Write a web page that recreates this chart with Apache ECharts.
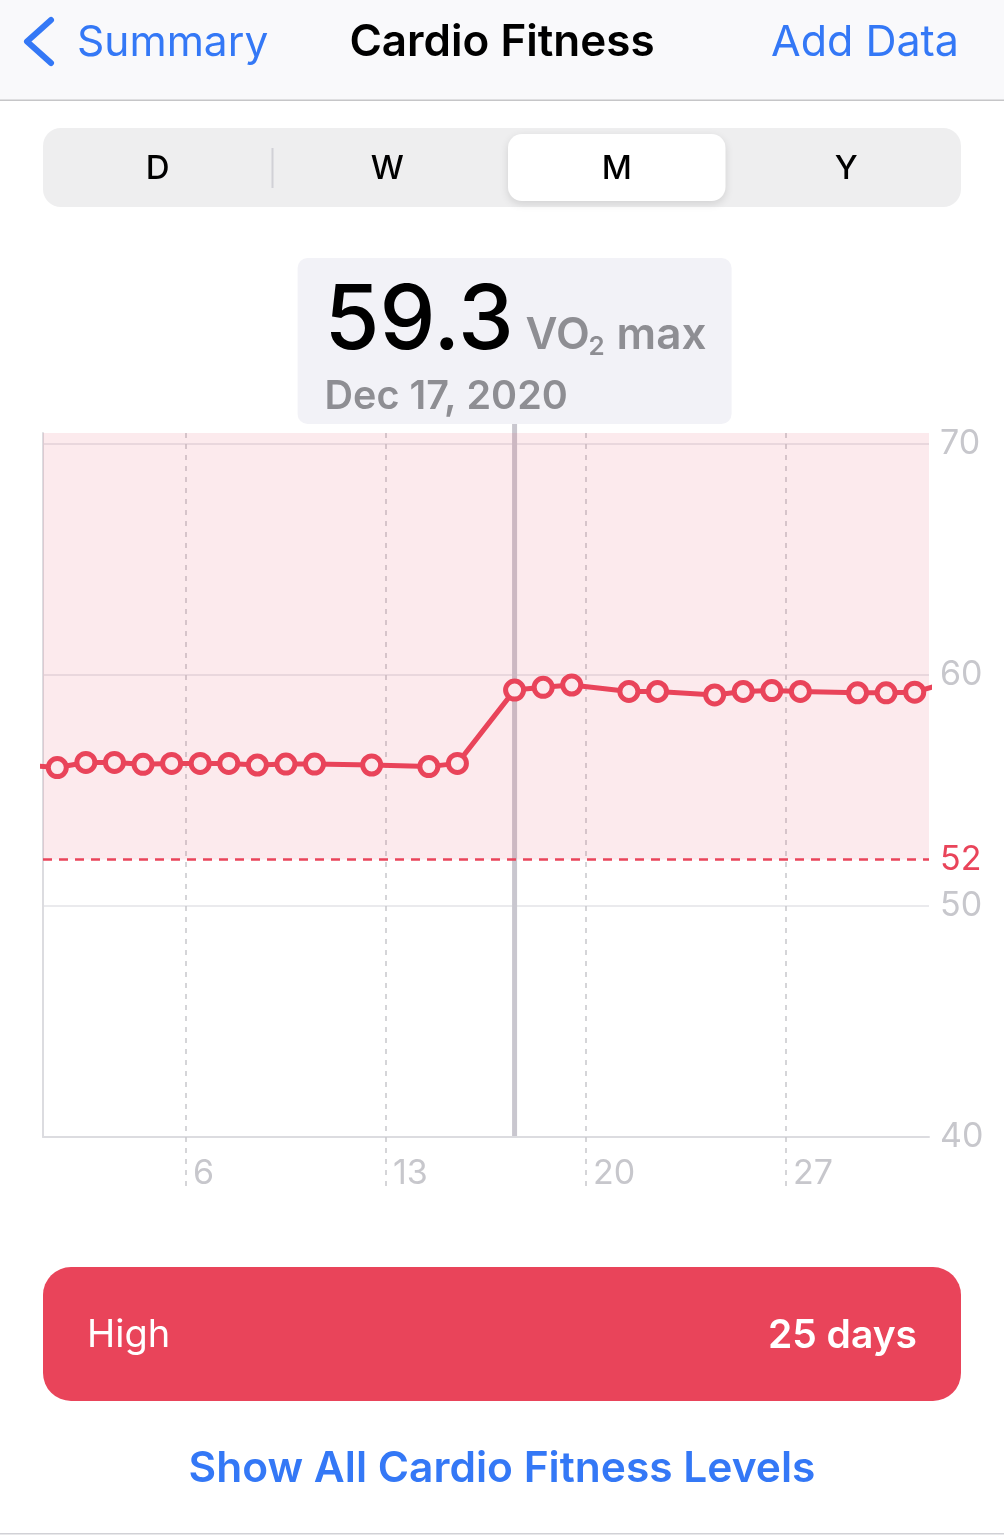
<!DOCTYPE html>
<html><head><meta charset="utf-8">
<script src="https://cdn.jsdelivr.net/npm/echarts@6/dist/echarts.min.js"></script>
<style>html,body{margin:0;padding:0;background:#fff}#c{width:1004px;height:1536px}</style>
</head><body><div id="c"></div>
<script>
// ---- data (December 2020, VO2 max readings) ----
const days = [1,2,3,4,5,6,7,8,9,10,12,14,15,17,18,19,21,22,24,25,26,27,29,30,31];
const vo2  = [55.98,56.2,56.2,56.12,56.16,56.16,56.16,56.09,56.13,56.13,56.09,56.02,56.16,
              59.33,59.45,59.55,59.27,59.27,59.12,59.27,59.31,59.27,59.21,59.21,59.24];
const prevMonthDay = 0, prevMonthValue = 56.07;   // Nov 30 reading (off the left edge)
const nextMonthDay = 32, nextMonthValue = 59.6;   // Jan 1 reading (off the right edge)
const readingHour = 12;                           // readings plotted at noon of their day
const selectedDay = 17;
const selectedLabel = 'Dec 17, 2020';
const highThreshold = 52;
const yTickValues = [40, 50, 60, 70];
const yLabelValues = [40, 50, 52, 60, 70];
const xTickDays = [6, 13, 20, 27];
const yMin = 40, yMax = 70.45;
const xMin = 1, xMax = 32;
const segments = ['D', 'W', 'M', 'Y'];
const selectedSegment = 'M';

const RED = '#e9445a', BLUE = '#3478f6', GRAY = '#c7c7cc', LABELGRAY = '#8e8e93';
const FONT = 'Inter, "Noto Sans", "DejaVu Sans", sans-serif';

const toX = d => d + readingHour / 24;
const seriesData = [[toX(prevMonthDay), prevMonthValue]]
  .concat(days.map((d, i) => [toX(d), vo2[i]]))
  .concat([[toX(nextMonthDay), nextMonthValue]]);
const highDays = vo2.filter(v => v >= highThreshold).length;
const selectedValue = vo2[days.indexOf(selectedDay)];

const chart = echarts.init(document.getElementById('c'), null, {renderer: 'canvas'});
chart.setOption({
  animation: false,
  backgroundColor: '#ffffff',
  grid: {left: 43, right: 75, top: 433, bottom: 399, containLabel: false, outerBoundsMode: 'none'},
  xAxis: {
    type: 'value', min: xMin, max: xMax,
    axisLine: {show: true, onZero: false, lineStyle: {color: '#dcdce0', width: 2}},
    axisTick: {show: true, customValues: xTickDays, length: 50, lineStyle: {color: GRAY, width: 1.5, type: [5, 6]}},
    splitLine: {show: true, lineStyle: {color: GRAY, width: 1.5, type: [5, 6]}},
    axisLabel: {show: true, customValues: xTickDays, color: GRAY, fontSize: 34, fontFamily: FONT,
      align: 'left', verticalAlign: 'middle', margin: 37, padding: [0, 0, 0, 7],
      formatter: v => String(v)}
  },
  yAxis: [{
    type: 'value', position: 'right', min: yMin, max: yMax,
    axisLine: {show: false},
    axisTick: {show: false, customValues: yTickValues},
    splitLine: {show: true, lineStyle: {color: '#e3e3e7', width: 1.5}},
    axisLabel: {show: true, customValues: yLabelValues, margin: 11, fontSize: 34, fontFamily: FONT,
      padding: [8, 0, 0, 0],
      color: v => (Number(v) === highThreshold ? RED : GRAY),
      fontWeight: 400, formatter: v => String(v)}
  }, {
    type: 'value', position: 'left', min: yMin, max: yMax,
    axisLine: {show: true, lineStyle: {color: '#dcdce0', width: 2}},
    axisTick: {show: false}, axisLabel: {show: false}, splitLine: {show: false}
  }],
  series: [{
    type: 'line', data: seriesData, clip: true, silent: true,
    showAllSymbol: true, symbol: 'circle', symbolSize: 18,
    lineStyle: {color: RED, width: 5},
    itemStyle: {color: '#fceaed', borderColor: RED, borderWidth: 5},
    markArea: {silent: true, itemStyle: {color: 'rgba(232,67,90,0.11)'},
      data: [[{yAxis: highThreshold}, {yAxis: yMax}]]},
    markLine: {silent: true, symbol: 'none', label: {show: false},
      lineStyle: {color: RED, width: 2.5, type: [9, 7]},
      data: [{yAxis: highThreshold}]},
    z: 3
  }]
});

// cursor position from the chart's own scale
const cx = chart.convertToPixel({xAxisIndex: 0, yAxisIndex: 0}, [toX(selectedDay), yMin]);
const cursorX = cx[0], bottomY = cx[1];
const boxW = 434, boxH = 166, boxTop = 258;
const boxL = cursorX - boxW / 2;

const segL = 43, segW = 918, segTop = 128, segH = 79;
const segCell = segW / segments.length;
const g = [];
// nav bar
g.push({type: 'rect', shape: {x: 0, y: 0, width: 1004, height: 100}, style: {fill: '#f9f9fb'}});
g.push({type: 'rect', shape: {x: 0, y: 99.5, width: 1004, height: 1.5}, style: {fill: '#c6c6c8'}});
g.push({type: 'polyline', shape: {points: [[51, 20], [27, 41.5], [51, 63]]},
  style: {stroke: BLUE, lineWidth: 6, lineCap: 'round', lineJoin: 'round', fill: null}});
g.push({type: 'text', x: 77, y: 43, style: {text: 'Summary', fontSize: 42.5, fontFamily: FONT, fill: BLUE, align: 'left', verticalAlign: 'middle'}});
g.push({type: 'text', x: 502, y: 43, style: {text: 'Cardio Fitness', fontSize: 44, fontWeight: 600, fontFamily: FONT, fill: '#000', align: 'center', verticalAlign: 'middle'}});
g.push({type: 'text', x: 959, y: 43, style: {text: 'Add Data', fontSize: 43, fontFamily: FONT, fill: BLUE, align: 'right', verticalAlign: 'middle'}});
// segmented control
g.push({type: 'rect', shape: {x: segL, y: segTop, width: segW, height: segH, r: 18}, style: {fill: '#eeeeef'}});
const selIdx = segments.indexOf(selectedSegment);
g.push({type: 'rect', shape: {x: segL + selIdx * segCell + 6, y: segTop + 6, width: segCell - 12, height: segH - 12, r: 14},
  style: {fill: '#fff', shadowBlur: 8, shadowColor: 'rgba(0,0,0,0.12)', shadowOffsetY: 3}});
g.push({type: 'rect', shape: {x: segL + segCell - 1, y: 148, width: 2, height: 40}, style: {fill: '#d1d1d6'}});
segments.forEach((s, i) => {
  g.push({type: 'text', x: segL + segCell * (i + 0.5), y: 169,
    style: {text: s, fontSize: 33, fontWeight: 500, fontFamily: FONT, fill: '#000', align: 'center', verticalAlign: 'middle'}});
});
// cursor line
g.push({type: 'line', shape: {x1: cursorX, y1: boxTop + boxH, x2: cursorX, y2: bottomY},
  style: {stroke: '#c9c7cf', lineWidth: 5}, z: 0});
// tooltip box
g.push({type: 'rect', shape: {x: boxL, y: boxTop, width: boxW, height: boxH, r: 10}, style: {fill: '#f2f2f7'}});
g.push({type: 'text', x: boxL + 27, y: 322, style: {text: selectedValue.toFixed(1), fontSize: 89, fontWeight: 500, fontFamily: FONT, fill: '#000', align: 'left', verticalAlign: 'middle'}});
g.push({type: 'text', x: boxL + 228, y: 336, style: {text: 'VO', fontSize: 44, fontWeight: 600, fontFamily: FONT, fill: LABELGRAY, align: 'left', verticalAlign: 'middle'}});
g.push({type: 'text', x: boxL + 291, y: 347, style: {text: '2', fontSize: 26, fontWeight: 600, fontFamily: FONT, fill: LABELGRAY, align: 'left', verticalAlign: 'middle'}});
g.push({type: 'text', x: boxL + 319, y: 336, style: {text: 'max', fontSize: 44, fontWeight: 600, fontFamily: FONT, fill: LABELGRAY, align: 'left', verticalAlign: 'middle'}});
g.push({type: 'text', x: boxL + 27, y: 397, style: {text: selectedLabel, fontSize: 39.5, fontWeight: 600, fontFamily: FONT, fill: LABELGRAY, align: 'left', verticalAlign: 'middle'}});
// summary bar
g.push({type: 'rect', shape: {x: 43, y: 1267, width: 918, height: 134, r: 28}, style: {fill: RED}});
g.push({type: 'text', x: 87, y: 1336, style: {text: 'High', fontSize: 38, fontFamily: FONT, fill: '#fff', align: 'left', verticalAlign: 'middle'}});
g.push({type: 'text', x: 917, y: 1336, style: {text: highDays + ' days', fontSize: 39, fontWeight: 600, fontFamily: FONT, fill: '#fff', align: 'right', verticalAlign: 'middle'}});
g.push({type: 'text', x: 502, y: 1469, style: {text: 'Show All Cardio Fitness Levels', fontSize: 42.5, fontWeight: 600, fontFamily: FONT, fill: BLUE, align: 'center', verticalAlign: 'middle'}});
g.push({type: 'rect', shape: {x: 0, y: 1533, width: 1004, height: 1.5}, style: {fill: '#d1d1d6'}});

chart.setOption({graphic: g.map(e => Object.assign({z: e.z !== undefined ? e.z : 1, silent: true}, e))});
</script></body></html>
